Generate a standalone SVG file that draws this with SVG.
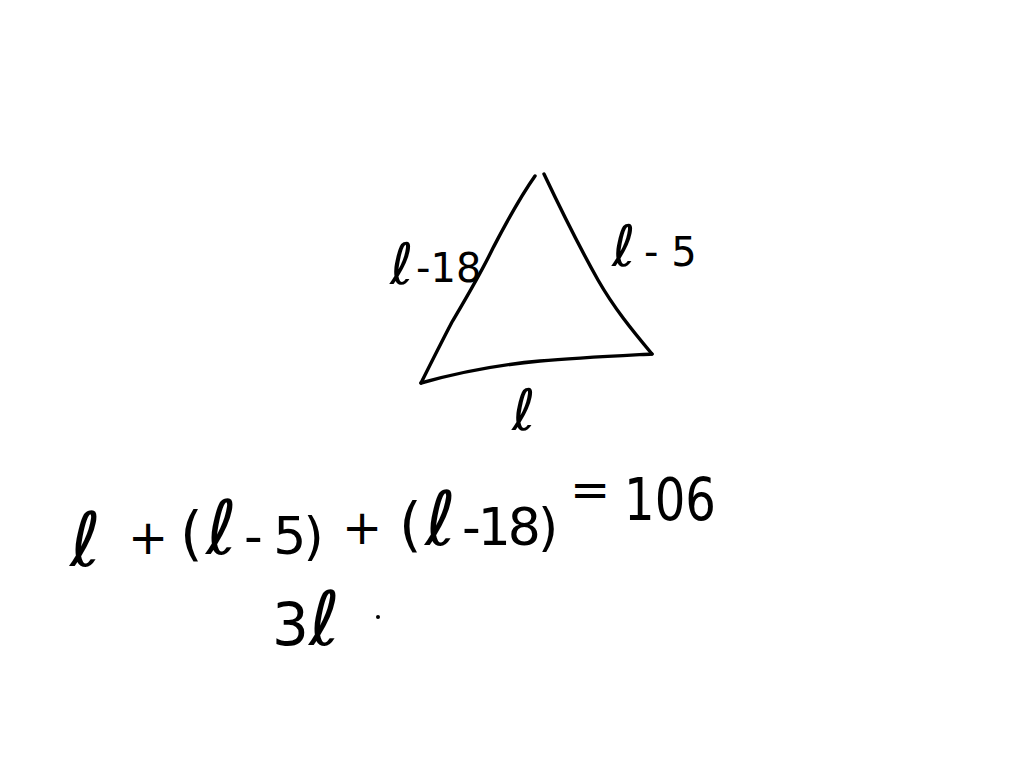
<svg xmlns="http://www.w3.org/2000/svg" width="1024" height="768" viewBox="0 0 1024 768">
<style>
.ink{fill:none;stroke:#000;stroke-width:3.4;stroke-linecap:round;stroke-linejoin:round}
.hw{font-family:"DejaVu Sans","Liberation Sans",sans-serif;fill:#000}
.lbl{font-size:40px}
.lell{font-size:57px}
.eq{font-size:58px}
.tight{font-size:52px;letter-spacing:-3px}
.ell{font-size:75px}
.op{font-size:48px}
</style>
<rect width="1024" height="768" fill="#fff"/>
<g id="triangle">
<path class="ink" d="M535,176 C518,200 505,225 493,248 C480,275 465,300 452,322 C440,345 430,365 421,383"/>
<path class="ink" d="M544,174 C562,212 580,248 598,280 C614,308 632,330 652,354"/>
<path class="ink" d="M421,383 C460,372 495,365 540,361 C575,358 615,356 652,354"/>
</g>
<g id="labels">
<text class="hw lell" x="390" y="284">ℓ</text>
<text class="hw lbl" x="416" y="282">-18</text>
<text class="hw lell" x="612" y="266">ℓ</text>
<text class="hw lbl" x="644" y="266">- 5</text>
<text class="hw lell" x="512" y="430">ℓ</text>
</g>
<g id="equation">
<text class="hw ell" x="70" y="566">ℓ</text>
<text class="hw op" x="128" y="554">+</text>
<text class="hw eq" x="180" y="554">(</text>
<text class="hw ell" x="206" y="554">ℓ</text>
<text class="hw tight" x="244" y="554">- 5)</text>
<text class="hw op" x="342" y="544">+</text>
<text class="hw eq" x="399" y="545">(</text>
<text class="hw ell" x="425" y="545">ℓ</text>
<text class="hw tight" x="462" y="545">-18)</text>
<text class="hw op" x="570" y="506">=</text>
<text class="hw eq" x="624" y="520" textLength="92" lengthAdjust="spacingAndGlyphs">106</text>
<text class="hw eq" x="272" y="645">3</text>
<text class="hw ell" x="309" y="645">ℓ</text>
<circle cx="378" cy="617" r="2" fill="#000"/>
</g>
</svg>
